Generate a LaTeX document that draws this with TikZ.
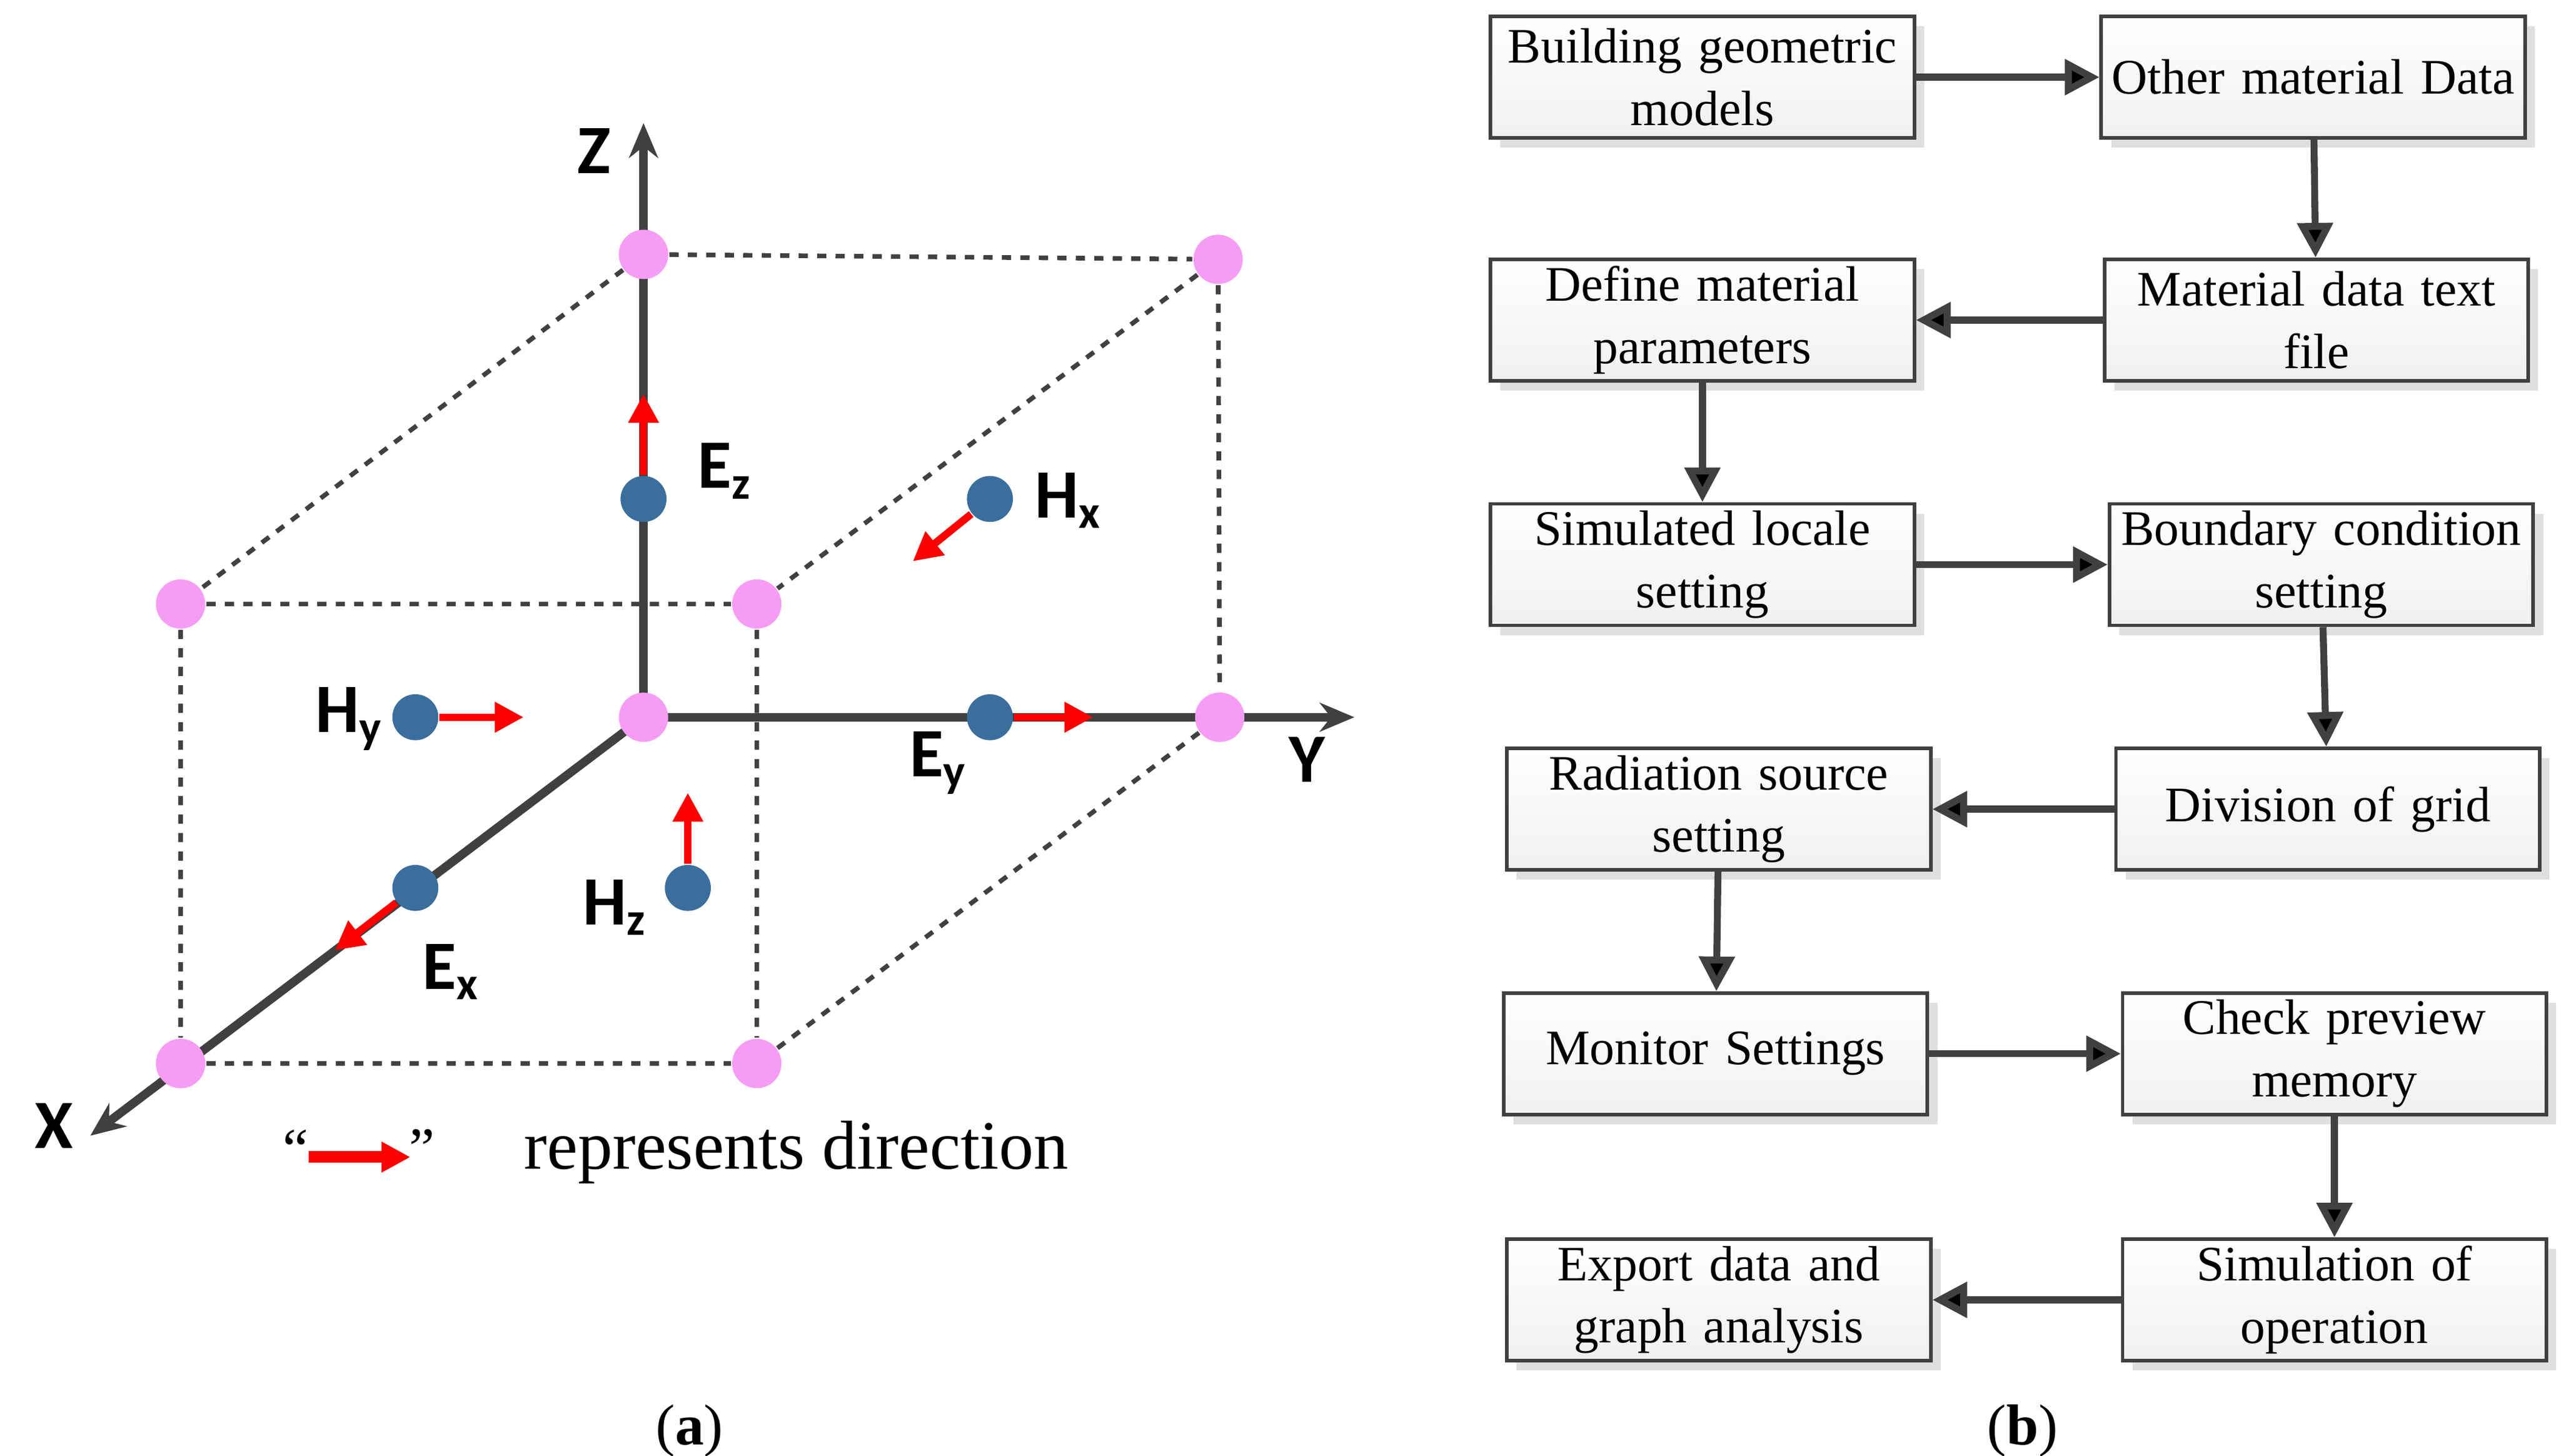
\documentclass[tikz,border=0pt]{standalone}
\usepackage{fontspec}
\setmainfont{Liberation Serif}
\newfontfamily\lblfont{Carlito}
\usetikzlibrary{arrows.meta,shadows}
\definecolor{axisgray}{HTML}{404040}
\definecolor{dotblue}{HTML}{3A6E9C}
\definecolor{dotpink}{HTML}{F79CF5}
\tikzset{
  box/.style={draw=axisgray, line width=0.6pt, minimum width=2.58cm, minimum height=0.74cm,
    text width=2.52cm, top color=white, bottom color=gray!12, align=center, inner sep=0.3pt,
    font=\fontsize{8.6}{10.8}\selectfont,
    drop shadow={shadow xshift=0.06cm, shadow yshift=-0.06cm, fill=gray!25, opacity=1}},
  flow/.style={draw=axisgray, line width=1.2pt, -{Triangle[length=6pt,width=6pt,fill=black]}},
  axis/.style={draw=axisgray, line width=1.5pt, -{Stealth[length=6pt,width=5pt]}},
  edge/.style={draw=axisgray, line width=0.8pt, dash pattern=on 1.6pt off 1.6pt},
  pt/.style={circle, fill=dotpink, minimum size=0.3cm, inner sep=0pt},
  fld/.style={circle, fill=dotblue, minimum size=0.28cm, inner sep=0pt},
  dir/.style={draw=red, line width=1.3pt, -{Triangle[length=5pt,width=5pt]}},
  lbl/.style={font=\lblfont\bfseries\fontsize{12}{12}\selectfont},
}
\begin{document}
\begin{tikzpicture}[x=0.01cm,y=-0.01cm]
\useasboundingbox (0,0) rectangle (1560,887);
% (a) cube
\coordinate (O) at (392,437);
\coordinate (zt) at (392,75);
\coordinate (yt) at (825,437);
\coordinate (xt) at (55,692);
\node[pt] (p1) at (392,155) {};
\node[pt] (p2) at (742,158) {};
\node[pt] (p3) at (110,368) {};
\node[pt] (p4) at (461,368) {};
\node[pt] (p6) at (743,437) {};
\node[pt] (p7) at (110,648) {};
\node[pt] (p8) at (461,648) {};
\draw[edge] (p1) -- (p2) (p1) -- (p3) (p2) -- (p4) (p3) -- (p4) (p2) -- (p6)
  (p3) -- (p7) (p4) -- (p8) (p7) -- (p8) (p8) -- (p6);
\draw[axis] (O) -- (zt);
\draw[axis] (O) -- (yt);
\draw[axis] (O) -- (xt);
\node[pt] (p5) at (O) {};
\node[pt] at (p1) {};
\node[pt] at (p6) {};
\node[pt] at (p7) {};
\node[lbl] (zl) at (362,92) {Z};
\node[lbl] (yl) at (796,463) {Y};
\node[lbl] (xl) at (33,686) {X};
% field components
\node[fld] (ez) at (392,304) {};
\coordinate (eza) at (392,240);
\draw[dir] (ez) -- (eza);
\node[lbl] at (442,287) {E\textsubscript{z}};
\node[fld] (hx) at (603,304) {};
\coordinate (hxa) at (556,342);
\draw[dir] (hx) -- (hxa);
\node[lbl] at (651,305) {H\textsubscript{x}};
\node[fld] (hy) at (253,437) {};
\coordinate (hya) at (319,437);
\draw[dir] (hy) -- (hya);
\node[lbl] at (213,438) {H\textsubscript{y}};
\node[fld] (ey) at (603,437) {};
\coordinate (eya) at (666,437);
\draw[dir] (ey) -- (eya);
\node[lbl] at (572,465) {E\textsubscript{y}};
\node[fld] (ex) at (253,541) {};
\coordinate (exa) at (204,579);
\draw[dir] (ex) -- (exa);
\node[lbl] at (275,592) {E\textsubscript{x}};
\node[fld] (hz) at (419,541) {};
\coordinate (hza) at (419,483);
\draw[dir] (hz) -- (hza);
\node[lbl] at (375,553) {H\textsubscript{z}};
% legend
\node (q1) at (180,700) {``};
\node (q2) at (257,700) {''};
\coordinate (la) at (188,705);
\coordinate (lb) at (250,705);
\draw[dir, line width=2pt] (la) -- (lb);
\node[font=\fontsize{12}{12}\selectfont] (leg) at (485,702) {represents direction};
\node (ca) at (420,872) {(\textbf{a})};
\node (cb) at (1232,872) {(\textbf{b})};
% (b) flow chart
\node[box] (b1) at (1037,47) {Building geometric\\models};
\node[box] (b2) at (1409,47) {Other material Data};
\node[box] (b3) at (1037,195) {Define material\\parameters};
\node[box] (b4) at (1411,195) {Material data text\\file};
\node[box] (b5) at (1037,344) {Simulated locale\\setting};
\node[box] (b6) at (1414,344) {Boundary condition\\setting};
\node[box] (b7) at (1047,493) {Radiation source\\setting};
\node[box] (b8) at (1418,493) {Division of grid};
\node[box] (b9) at (1045,642) {Monitor Settings};
\node[box] (b10) at (1422,642) {Check preview\\memory};
\node[box] (b11) at (1047,792) {Export data and\\graph analysis};
\node[box] (b12) at (1422,792) {Simulation of\\operation};
\draw[flow] (b1) -- (b2);
\draw[flow] (b2) -- (b4);
\draw[flow] (b4) -- (b3);
\draw[flow] (b3) -- (b5);
\draw[flow] (b5) -- (b6);
\draw[flow] (b6) -- (b8);
\draw[flow] (b8) -- (b7);
\draw[flow] (b7) -- (b9);
\draw[flow] (b9) -- (b10);
\draw[flow] (b10) -- (b12);
\draw[flow] (b12) -- (b11);
\end{tikzpicture}
\end{document}
